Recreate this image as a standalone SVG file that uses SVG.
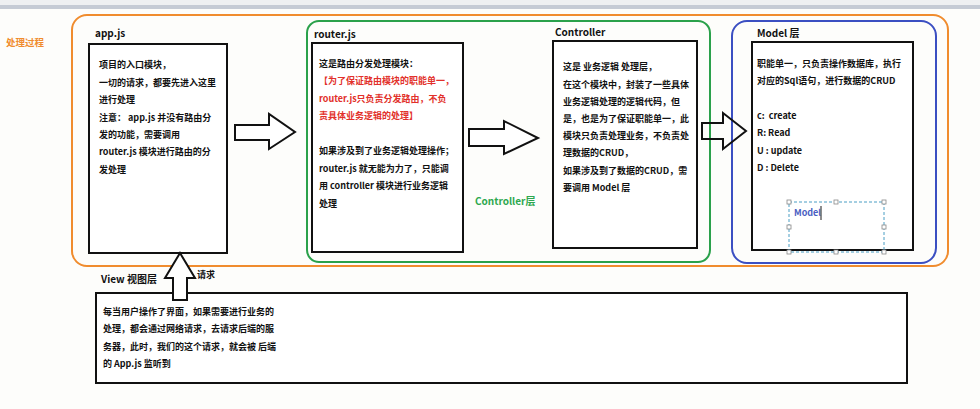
<svg xmlns="http://www.w3.org/2000/svg" width="980" height="409" viewBox="0 0 980 409">
<style>
text{font-family:"Noto Sans CJK SC","Noto Sans",sans-serif;font-weight:bold;fill:#111}
.b{font-size:9px}
.lbl{font-size:10px}
.red{fill:#e2302a}
.box{fill:#fff;stroke:#111;stroke-width:2}
.arrow{fill:#fff;stroke:#111;stroke-width:2;stroke-linejoin:miter}
.h{fill:#fff;stroke:#888;stroke-width:0.8}
</style>
<rect x="0" y="0" width="980" height="409" fill="#fdfdfb"/>
<rect x="0" y="0" width="980" height="5" fill="#eef0f2"/>
<rect x="0" y="5" width="980" height="4" fill="#c5cbd5"/>

<g id="process-container">
<rect x="72" y="15" width="876" height="251" rx="15" fill="none" stroke="#f08c2e" stroke-width="2"/>
<text x="6" y="45.5" style="font-size:9.5px;fill:#f08c2e">处理过程</text>
</g>

<g id="controller-layer">
<rect x="307" y="21" width="403" height="241" rx="12" fill="none" stroke="#2aa14b" stroke-width="2"/>
<text x="475" y="204.5" class="lbl" style="fill:#2ea84f">Controller层</text>
</g>

<g id="model-layer">
<rect x="732" y="21" width="204" height="242" rx="15" fill="none" stroke="#3b4fc2" stroke-width="2"/>
</g>

<g id="connectors">
<polygon class="arrow" points="235,125 269,125 269,114 295,132 269,149 269,140 235,140"/>
<polygon class="arrow" points="469,129 504,129 504,121 538,138 504,154 504,146 469,146"/>
<polygon class="arrow" style="fill:none" points="702,123 723,123 723,113 746,131 723,149 723,139 702,139"/>
</g>

<g id="app">
<text x="95" y="36.5" class="lbl">app.js</text>
<rect class="box" x="89" y="44" width="138" height="209"/>
<text class="b" x="99" y="68.3">项目的入口模块，</text>
<text class="b" x="99" y="85.7">一切的请求，都要先进入这里</text>
<text class="b" x="99" y="103.1">进行处理</text>
<text class="b" x="99" y="120.5">注意： app.js 并没有路由分</text>
<text class="b" x="99" y="137.9">发的功能，需要调用</text>
<text class="b" x="99" y="155.3">router.js 模块进行路由的分</text>
<text class="b" x="99" y="172.7">发处理</text>
</g>

<g id="router">
<text x="314" y="37.5" class="lbl">router.js</text>
<rect class="box" x="312" y="43" width="151" height="209"/>
<text class="b" x="319" y="66.5">这是路由分发处理模块：</text>
<text class="b red" x="319" y="84">【为了保证路由模块的职能单一，</text>
<text class="b red" x="319" y="101.5">router.js只负责分发路由，不负</text>
<text class="b red" x="319" y="119">责具体业务逻辑的处理】</text>
<text class="b" x="319" y="154">如果涉及到了业务逻辑处理操作；</text>
<text class="b" x="319" y="171.5">router.js 就无能为力了，只能调</text>
<text class="b" x="319" y="189">用 controller 模块进行业务逻辑</text>
<text class="b" x="319" y="206.5">处理</text>
</g>

<g id="controller">
<text x="555" y="35.5" class="lbl">Controller</text>
<rect class="box" x="553" y="41" width="144" height="207"/>
<text class="b" x="563" y="70.3">这是 业务逻辑 处理层，</text>
<text class="b" x="563" y="87.5">在这个模块中，封装了一些具体</text>
<text class="b" x="563" y="104.7">业务逻辑处理的逻辑代码，但</text>
<text class="b" x="563" y="121.9">是，也是为了保证职能单一，此</text>
<text class="b" x="563" y="139.1">模块只负责处理业务，不负责处</text>
<text class="b" x="563" y="156.3">理数据的CRUD，</text>
<text class="b" x="563" y="173.5">如果涉及到了数据的CRUD，需</text>
<text class="b" x="563" y="190.7">要调用 Model 层</text>
</g>

<g id="model">
<text x="757" y="36.5" class="lbl">Model 层</text>
<rect class="box" x="752" y="42" width="161" height="208"/>
<text class="b" x="757" y="66.5">职能单一，只负责操作数据库，执行</text>
<text class="b" x="757" y="84">对应的Sql语句，进行数据的CRUD</text>
<text class="b" x="757" y="119" xml:space="preserve">c:  create</text>
<text class="b" x="757" y="136.3">R: Read</text>
<text class="b" x="757" y="153.6">U : update</text>
<text class="b" x="757" y="170.9">D : Delete</text>
<rect x="789" y="202" width="95" height="50" fill="none" stroke="#4a9ec4" stroke-width="1" stroke-dasharray="3,2"/>
<rect class="h" x="787" y="200" width="4" height="4"/>
<rect class="h" x="834" y="200" width="4" height="4"/>
<rect class="h" x="882" y="200" width="4" height="4"/>
<rect class="h" x="787" y="225" width="4" height="4"/>
<rect class="h" x="882" y="225" width="4" height="4"/>
<rect class="h" x="787" y="250" width="4" height="4"/>
<rect class="h" x="834" y="250" width="4" height="4"/>
<rect class="h" x="882" y="250" width="4" height="4"/>
<text x="794" y="215.5" class="b" style="fill:#4a5ec2">Model</text>
<line x1="821" y1="206" x2="821" y2="220" stroke="#666" stroke-width="1.5"/>
</g>

<g id="view">
<text x="101" y="282.5" class="lbl">View 视图层</text>
<rect class="box" x="96" y="293" width="811" height="90"/>
<text class="b" x="103" y="314.5">每当用户操作了界面，如果需要进行业务的</text>
<text class="b" x="103" y="332">处理，都会通过网络请求，去请求后端的服</text>
<text class="b" x="103" y="349.5">务器，此时，我们的这个请求，就会被 后端</text>
<text class="b" x="103" y="367">的 App.js 监听到</text>
</g>

<g id="request-arrow">
<polygon class="arrow" points="180,253 195,278 187,278 187,300 173,300 173,278 165,278"/>
<text x="197" y="277.5" class="b">请求</text>
</g>
</svg>
